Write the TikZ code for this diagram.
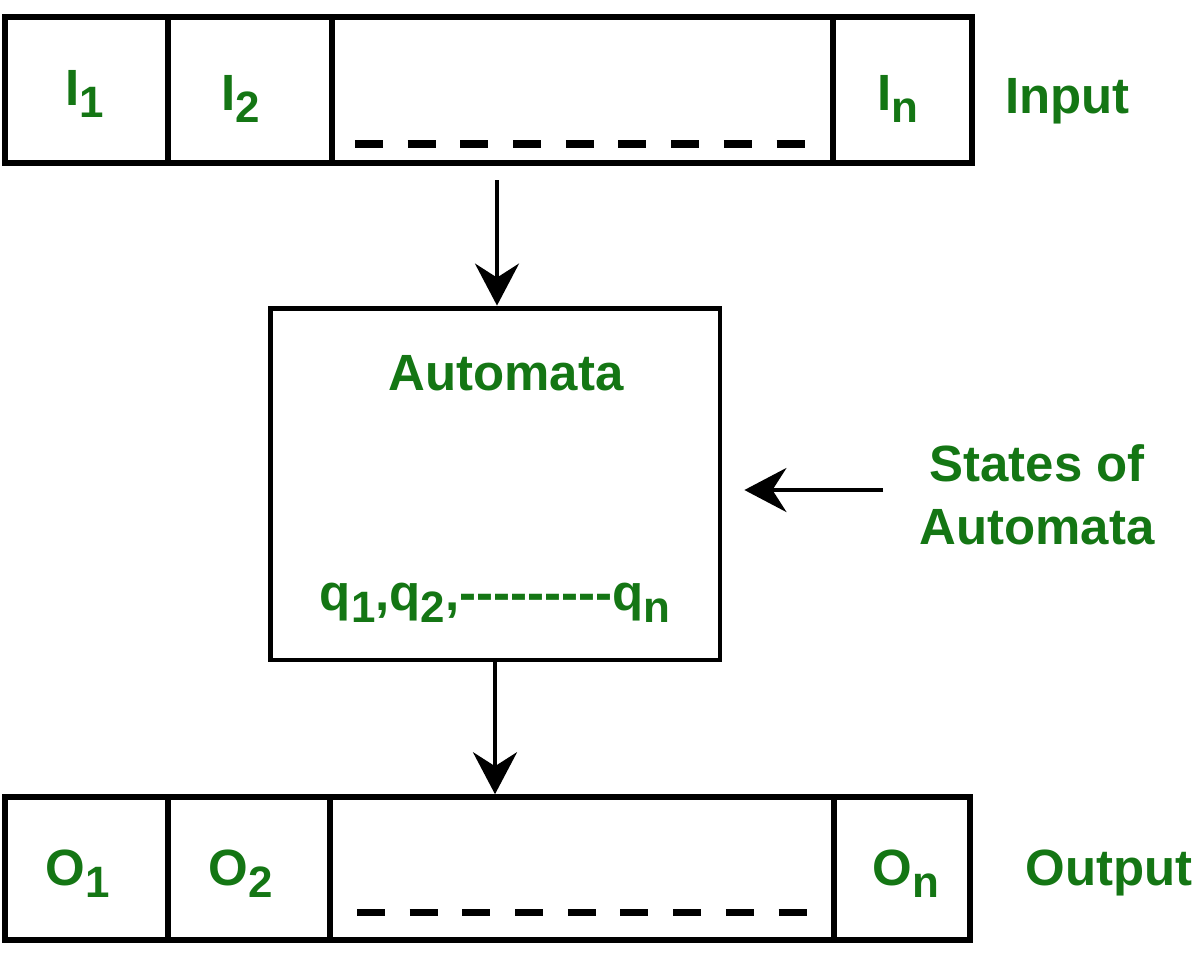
\documentclass[tikz,border=0pt]{standalone}
\usepackage{fontspec}
\setmainfont{Liberation Sans}
\usetikzlibrary{arrows.meta}
\definecolor{lgreen}{RGB}{20,118,20}
\newcommand\lowidx[1]{\raisebox{-0.25em}{\fontsize{25}{25}\selectfont #1}}
\newcommand\hyph{\mbox{-}}
\begin{document}
\begin{tikzpicture}[x=0.02cm, y=-0.02cm,
  cell/.style={draw, line width=3.2pt, minimum height=2.92cm, inner sep=0pt},
  lab/.style={text=lgreen, font=\bfseries\fontsize{29}{35.8}\selectfont, inner sep=0pt},
  arr/.style={line width=2.3pt, -{Stealth[length=0.84cm, width=0.88cm, inset=0.28cm]}},
  dashline/.style={line width=4pt, dash pattern=on 0.56cm off 0.494cm}]
\useasboundingbox (0,0) rectangle (1200,961);

% input tape
\node[cell, minimum width=3.26cm] (i1) at (86.5,90) {};
\node[cell, minimum width=3.28cm] (i2) at (250,90) {};
\node[cell, minimum width=10.02cm] (im) at (582.5,90) {};
\node[cell, minimum width=2.78cm] (in) at (902.5,90) {};
\draw[dashline] (355,144) -- (805,144);
\node[lab, anchor=base] (li1) at (85,105) {I\lowidx{1}};
\node[lab, anchor=base] (li2) at (241,110) {I\lowidx{2}};
\node[lab, anchor=base] (lin) at (898,110) {I\lowidx{n}};
\node[lab, anchor=base west] (input) at (1005,113) {Input};

% automata
\node[draw, line width=2.8pt, minimum width=9cm, minimum height=7.04cm] (auto) at (495,484) {};
\node[lab, anchor=base] (autl) at (506,390) {Automata};
\node[lab, anchor=base] (qs) at (495,610) {q\lowidx{1},q\lowidx{2},\hyph\hyph\hyph\hyph\hyph\hyph\hyph\hyph\hyph q\lowidx{n}};
\node[lab, align=center, anchor=north] (states) at (1037,444) {States of\\Automata};

% output tape
\node[cell, minimum width=3.26cm, minimum height=2.86cm] (o1) at (86.5,868.5) {};
\node[cell, minimum width=3.24cm, minimum height=2.86cm] (o2) at (249,868.5) {};
\node[cell, minimum width=10.08cm, minimum height=2.86cm] (om) at (582,868.5) {};
\node[cell, minimum width=2.72cm, minimum height=2.86cm] (on) at (902,868.5) {};
\draw[dashline] (357,912) -- (807,912);
\node[lab, anchor=base] (lo1) at (78,885) {O\lowidx{1}};
\node[lab, anchor=base] (lo2) at (241,885) {O\lowidx{2}};
\node[lab, anchor=base] (lon) at (906,885) {O\lowidx{n}};
\node[lab, anchor=base west] (output) at (1025,885) {Output};

% connectors
\coordinate (a1) at (497,180);
\draw[arr] (a1) -- (a1 |- auto.north);
\draw[arr] (auto.south) -- (auto.south |- om.north);
\coordinate (a3) at (883,490);
\draw[arr, shorten >=0.44cm] (a3) -- (a3 -| auto.east);
\end{tikzpicture}
\end{document}
